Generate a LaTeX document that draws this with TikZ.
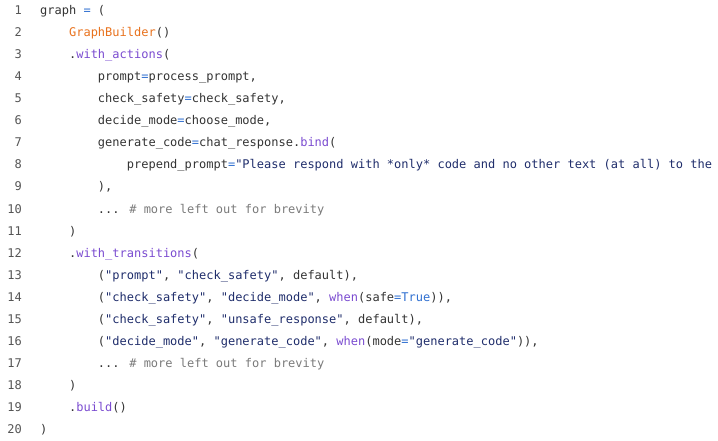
\documentclass[tikz,border=0pt]{standalone}
\usepackage{fontspec}
\newfontfamily\cf{DejaVu Sans Mono}
\definecolor{tx}{HTML}{333333}
\definecolor{ln}{HTML}{555555}
\definecolor{op}{HTML}{2F6FD0}
\definecolor{fn}{HTML}{7A4BD0}
\definecolor{cl}{HTML}{E8711C}
\definecolor{st}{HTML}{1F2D6B}
\definecolor{cm}{HTML}{7A7A7A}
\newcommand{\E}{\textcolor{op}{=}}
\newcommand{\F}[1]{\textcolor{fn}{#1}}
\newcommand{\Sq}[1]{\textcolor{st}{#1}}
\newcommand{\Cm}[1]{\textcolor{cm}{#1}}
\newcommand{\I}[1]{\hspace*{#1\fontcharwd\font`0}}
\begin{document}
\begin{tikzpicture}[x=1pt,y=1pt,
  code/.style={anchor=base west,inner sep=0pt,font=\cf\fontsize{12}{14}\selectfont,text=tx},
  num/.style={anchor=base east,inner sep=0pt,font=\cf\fontsize{12}{14}\selectfont,text=ln}]
\useasboundingbox (0,0) rectangle (718,440);
\foreach \i in {1,...,20}{\node[num] (n\i) at (22,{440-15-22*(\i-1)}) {\i};}
\def\Y#1{{440-15-22*(#1-1)}}
\node[code] (l1) at (40,\Y{1}) {graph \E{} (};
\node[code] (l2) at (40,\Y{2}) {\I{4}\textcolor{cl}{GraphBuilder}()};
\node[code] (l3) at (40,\Y{3}) {\I{4}.\F{with\_actions}(};
\node[code] (l4) at (40,\Y{4}) {\I{8}prompt\E{}process\_prompt,};
\node[code] (l5) at (40,\Y{5}) {\I{8}check\_safety\E{}check\_safety,};
\node[code] (l6) at (40,\Y{6}) {\I{8}decide\_mode\E{}choose\_mode,};
\node[code] (l7) at (40,\Y{7}) {\I{8}generate\_code\E{}chat\_response.\F{bind}(};
\node[code] (l8) at (40,\Y{8}) {\I{12}prepend\_prompt\E{}\Sq{"Please respond with *only* code and no other text (at all) to the}};
\node[code] (l9) at (40,\Y{9}) {\I{8}),};
\node[code] (l10) at (40,\Y{10}) {\I{8}... \Cm{\# more left out for brevity}};
\node[code] (l11) at (40,\Y{11}) {\I{4})};
\node[code] (l12) at (40,\Y{12}) {\I{4}.\F{with\_transitions}(};
\node[code] (l13) at (40,\Y{13}) {\I{8}(\Sq{"prompt"}, \Sq{"check\_safety"}, default),};
\node[code] (l14) at (40,\Y{14}) {\I{8}(\Sq{"check\_safety"}, \Sq{"decide\_mode"}, \F{when}(safe\E{}\textcolor{op}{True})),};
\node[code] (l15) at (40,\Y{15}) {\I{8}(\Sq{"check\_safety"}, \Sq{"unsafe\_response"}, default),};
\node[code] (l16) at (40,\Y{16}) {\I{8}(\Sq{"decide\_mode"}, \Sq{"generate\_code"}, \F{when}(mode\E{}\Sq{"generate\_code"})),};
\node[code] (l17) at (40,\Y{17}) {\I{8}... \Cm{\# more left out for brevity}};
\node[code] (l18) at (40,\Y{18}) {\I{4})};
\node[code] (l19) at (40,\Y{19}) {\I{4}.\F{build}()};
\node[code] (l20) at (40,\Y{20}) {)};
\end{tikzpicture}
\end{document}
